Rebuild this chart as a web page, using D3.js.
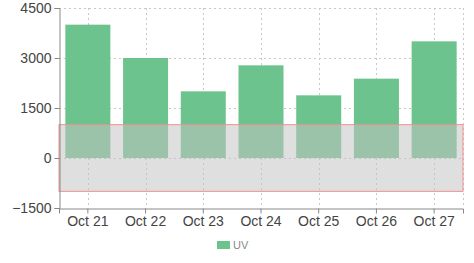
<!DOCTYPE html>
<html><head><meta charset="utf-8">
<script src="https://cdn.jsdelivr.net/npm/d3@7"></script>
<style>body{margin:0;background:#fff}svg{display:block;font-family:"Helvetica Neue",Arial,"Liberation Sans",sans-serif}</style>
</head><body><svg id="c" width="474" height="263"></svg>
<script>
const categories = ["Oct 21","Oct 22","Oct 23","Oct 24","Oct 25","Oct 26","Oct 27"];
const uvValues = [4000, 3000, 2000, 2780, 1880, 2380, 3500];
const yTicks = [-1500, 0, 1500, 3000, 4500];
const regionRange = [-1000, 1000];
const seriesName = "UV";

const svg = d3.select("#c");
const m = {l:59, r:11, t:8, b:55};
const W = 474, H = 263;
const x = d3.scaleBand().domain(categories).range([m.l, W - m.r]).paddingInner(0.22).paddingOuter(0.11);
const y = d3.scaleLinear().domain([-1500, 4500]).range([H - m.b, m.t]);
const bw = x.bandwidth();
const step = x.step();

const grid = svg.append("g").attr("stroke","#c8c8c8").attr("stroke-dasharray","2,3").attr("stroke-width",1);
yTicks.forEach(t => { if (t !== -1500) grid.append("line").attr("x1", m.l).attr("x2", W - m.r).attr("y1", Math.round(y(t))+0.5).attr("y2", Math.round(y(t))+0.5); });
categories.forEach(c => grid.append("line").attr("x1", Math.round(x(c)+bw/2)+0.5).attr("x2", Math.round(x(c)+bw/2)+0.5).attr("y1", m.t).attr("y2", H - m.b));
grid.append("line").attr("x1", W-m.r+0.5).attr("x2", W-m.r+0.5).attr("y1", m.t).attr("y2", H-m.b);

svg.append("g").selectAll("rect").data(categories).join("rect")
  .attr("x", c => x(c)).attr("width", bw)
  .attr("y", (c,i) => y(uvValues[i])).attr("height", (c,i) => y(0) - y(uvValues[i]))
  .attr("fill", "#6dc38e");

svg.append("rect").attr("x", m.l).attr("width", W - m.r - m.l)
  .attr("y", y(regionRange[1])).attr("height", y(regionRange[0]) - y(regionRange[1]))
  .attr("fill", "rgb(195,195,195)").attr("fill-opacity", 0.53)
  .attr("stroke", "#f09090").attr("stroke-width", 1);

const yAxis = svg.append("g").attr("transform", `translate(${m.l+0.5},0)`)
  .call(d3.axisLeft(y).tickValues(yTicks).tickSize(5).tickPadding(3).tickFormat(d => d3.format("d")(d).replace("-", "\u2212")));
const xAxis = svg.append("g").attr("transform", `translate(0,${H - m.b + 0.5})`)
  .call(d3.axisBottom(x).tickSize(5).tickPadding(3));
[yAxis, xAxis].forEach(a => {
  a.select(".domain").attr("stroke", "#888");
  a.selectAll(".tick line").attr("stroke", "#888");
  a.selectAll("text").attr("fill", "#444").style("font-size", "14px");
});

const lg = svg.append("g").attr("transform", "translate(217,241)");
lg.append("rect").attr("width", 13).attr("height", 8).attr("fill", "#6dc38e");
lg.append("text").attr("x", 16).attr("y", 8).attr("fill", "#888").style("font-size", "11px").text(seriesName);
</script></body></html>
